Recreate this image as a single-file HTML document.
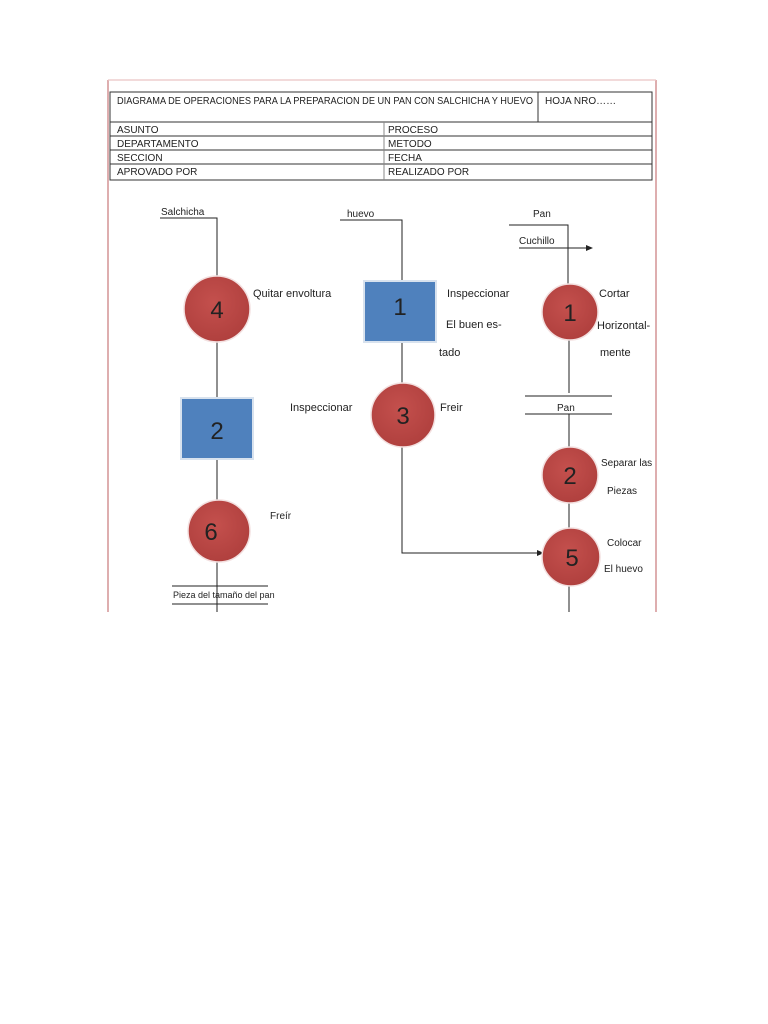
<!DOCTYPE html>
<html><head><meta charset="utf-8"><style>
body{margin:0;background:#fff}
svg{display:block}
text{font-family:"Liberation Sans",sans-serif;fill:#222}
</style></head><body>
<svg width="768" height="1024" viewBox="0 0 768 1024" xmlns="http://www.w3.org/2000/svg">
<defs>
<radialGradient id="rc" cx="45%" cy="40%" r="60%"><stop offset="0" stop-color="#c4504d"/><stop offset="1" stop-color="#b0403e"/></radialGradient>
</defs>
<g stroke="#c9787a" stroke-width="1.2">
<line x1="108" y1="80" x2="108" y2="612"/><line x1="656" y1="80" x2="656" y2="612"/>
<line x1="108" y1="80" x2="656" y2="80" stroke="#eac4c4"/>
</g>
<g stroke="#333" stroke-width="1" fill="none">
<rect x="110" y="92" width="542" height="88"/>
<line x1="110" y1="122" x2="652" y2="122"/>
<line x1="110" y1="136" x2="652" y2="136"/>
<line x1="110" y1="150" x2="652" y2="150"/>
<line x1="110" y1="164" x2="652" y2="164"/>
<line x1="538" y1="92" x2="538" y2="122"/>
<line x1="384" y1="122" x2="384" y2="180" stroke="#888"/>
</g>
<g font-size="10" fill="#333">
<text x="117" y="104" textLength="416" lengthAdjust="spacingAndGlyphs">DIAGRAMA DE OPERACIONES PARA LA PREPARACION DE UN PAN CON SALCHICHA Y HUEVO</text>
<text x="545" y="104">HOJA NRO……</text>
<text x="117" y="133">ASUNTO</text><text x="388" y="133">PROCESO</text>
<text x="117" y="147">DEPARTAMENTO</text><text x="388" y="147">METODO</text>
<text x="117" y="161">SECCION</text><text x="388" y="161">FECHA</text>
<text x="117" y="175">APROVADO POR</text><text x="388" y="175">REALIZADO POR</text>
</g>
<g stroke="#222" stroke-width="1" fill="none">
<polyline points="160,218 217,218 217,278"/>
<line x1="217" y1="340" x2="217" y2="398"/>
<line x1="217" y1="459" x2="217" y2="500"/>
<line x1="217" y1="562" x2="217" y2="612"/>
<line x1="172" y1="586" x2="268" y2="586"/>
<line x1="172" y1="604" x2="268" y2="604"/>
<polyline points="340,220 402,220 402,281"/>
<line x1="402" y1="342" x2="402" y2="385"/>
<polyline points="402,447 402,553 540,553"/>
<polyline points="509,225 568,225 568,284"/>
<line x1="519" y1="248" x2="588" y2="248"/>
<line x1="569" y1="340" x2="569" y2="393"/>
<line x1="525" y1="396" x2="612" y2="396"/>
<line x1="525" y1="414" x2="612" y2="414"/>
<line x1="569" y1="414" x2="569" y2="447"/>
<line x1="569" y1="503" x2="569" y2="529"/>
<line x1="569" y1="586" x2="569" y2="612"/>
</g>
<polygon points="593,248 586,245 586,251" fill="#222"/>
<polygon points="544,553 537,550 537,556" fill="#222"/>
<g fill="url(#rc)" stroke="#f3e0e0" stroke-width="1.5">
<circle cx="217" cy="309" r="33"/>
<circle cx="219" cy="531" r="31"/>
<circle cx="403" cy="415" r="32"/>
<circle cx="570" cy="312" r="28"/>
<circle cx="570" cy="475" r="28"/>
<circle cx="571" cy="557" r="29"/>
</g>
<g fill="#4f81bd" stroke="#d8e2ee" stroke-width="2">
<rect x="181" y="398" width="72" height="61"/>
<rect x="364" y="281" width="72" height="61"/>
</g>
<g font-size="24" text-anchor="middle" fill="#1a1a1a">
<text x="217" y="318">4</text><text x="217" y="439">2</text><text x="211" y="540">6</text>
<text x="400" y="315">1</text><text x="403" y="424">3</text>
<text x="570" y="321">1</text><text x="570" y="484">2</text><text x="572" y="566">5</text>
</g>
<g font-size="11">
<text x="161" y="215" font-size="10">Salchicha</text>
<text x="347" y="217" font-size="10">huevo</text>
<text x="533" y="217" font-size="10">Pan</text>
<text x="519" y="244" font-size="10">Cuchillo</text>
<text x="253" y="297">Quitar envoltura</text>
<text x="447" y="297">Inspeccionar</text>
<text x="446" y="328">El buen es-</text>
<text x="439" y="356">tado</text>
<text x="599" y="297">Cortar</text>
<text x="597" y="329">Horizontal-</text>
<text x="600" y="356">mente</text>
<text x="290" y="411">Inspeccionar</text>
<text x="440" y="411">Freir</text>
<text x="557" y="411" font-size="10">Pan</text>
<text x="601" y="466" font-size="10">Separar las</text>
<text x="607" y="494" font-size="10">Piezas</text>
<text x="270" y="519" font-size="10">Freír</text>
<text x="607" y="546" font-size="10">Colocar</text>
<text x="604" y="572" font-size="10">El huevo</text>
<text x="173" y="598" font-size="9">Pieza del tamaño del pan</text>
</g>
</svg>
</body></html>
